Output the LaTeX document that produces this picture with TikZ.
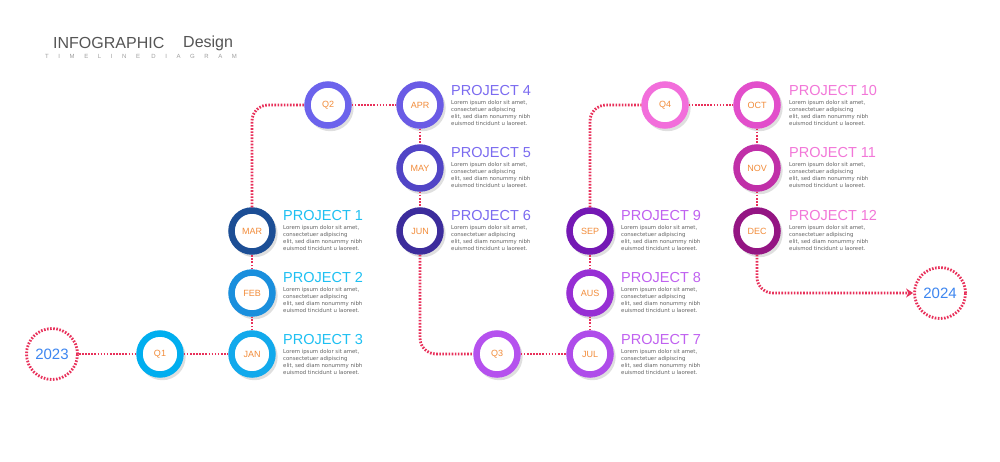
\documentclass[tikz,border=0pt]{standalone}
\usepackage{fontspec}
\setmainfont{Liberation Sans}
\newfontfamily\spaced[LetterSpace=160]{Liberation Sans}
\newfontfamily\loremfont{DejaVu Sans}
\usetikzlibrary{arrows.meta,shadows}

\definecolor{routered}{HTML}{E8305A}
\definecolor{monthorange}{HTML}{F28C3A}
\definecolor{yearblue}{HTML}{3D86F0}
\definecolor{loremgrey}{HTML}{646464}
\definecolor{titlegrey}{HTML}{555555}
% project title colours
\definecolor{cpa}{HTML}{1EC0F2}
\definecolor{cpb}{HTML}{7B6BF0}
\definecolor{cpc}{HTML}{C061F0}
\definecolor{cpd}{HTML}{F277D8}
% ring colours
\definecolor{cq1}{HTML}{00AEEF}
\definecolor{cjan}{HTML}{12A9EC}
\definecolor{cfeb}{HTML}{1A8FDD}
\definecolor{cmar}{HTML}{1C4E95}
\definecolor{cq2}{HTML}{6C63EC}
\definecolor{capr}{HTML}{6A5BE5}
\definecolor{cmay}{HTML}{5145C6}
\definecolor{cjun}{HTML}{3C2C9C}
\definecolor{cq3}{HTML}{B551EE}
\definecolor{cjul}{HTML}{AF4CEA}
\definecolor{caus}{HTML}{972FD4}
\definecolor{csep}{HTML}{7418B4}
\definecolor{cq4}{HTML}{F26EDB}
\definecolor{coct}{HTML}{E24ECB}
\definecolor{cnov}{HTML}{C02FA8}
\definecolor{cdec}{HTML}{941583}

\newcommand{\loremtxt}{Lorem ipsum dolor sit amet,\\ consectetuer adipiscing\\ elit, sed diam nonummy nibh\\ euismod tincidunt u laoreet.}

\begin{document}
\begin{tikzpicture}[
       x=1pt, y=-1pt,
       route/.style={
         draw=routered,
         line width=2.8pt,
         dash pattern=on 1.6pt off 1.5pt
       },
       month/.style={
         circle,
         fill=white,
         line width=6.5pt,
         minimum size=41pt,
         inner sep=0pt,
         text=monthorange,
         font=\fontsize{9}{10}\selectfont,
         drop shadow={shadow xshift=2pt, shadow yshift=-2.5pt, shadow scale=1.14, opacity=0.25}
       },
       year/.style={
         circle,
         draw=routered,
         line width=2.8pt,
         dash pattern=on 1.6pt off 1.5pt,
         minimum size=51pt,
         inner sep=0pt,
         text=yearblue,
         font=\fontsize{15}{16}\selectfont
       },
       ptitle/.style={
         anchor=west,
         inner sep=0pt,
         font=\fontsize{14.5}{15}\selectfont
       },
       ptext/.style={
         anchor=north west,
         align=left,
         inner sep=0pt,
         text=loremgrey,
         font=\loremfont\fontsize{5.4}{6.9}\selectfont
       }
     ]

       \fill[white] (0,0) rectangle (1000,461);
       \useasboundingbox (0,0) rectangle (1000,461);

       \node (head) at (53,43) [anchor=west, inner sep=0pt, text=titlegrey, font=\fontsize{16}{17}\selectfont]{INFOGRAPHIC};
       \node (head2) at (183,43) [anchor=west, inner sep=0pt, text=titlegrey, font=\fontsize{16}{17}\selectfont]{Design};
       \node (sub) at (45,56) [anchor=west, inner sep=0pt, text=gray!75, font=\spaced\fontsize{6}{7}\selectfont]{TIMELINE DIAGRAM};

       \node (y2023) at (52,354) [year]{2023};
       \node (y2024) at (940,293) [year]{2024};

       \node (q1) at (160,354) [month, draw=cq1]{Q1};
       \node (jan) at (252,354) [month, draw=cjan]{JAN};
       \node (feb) at (252,293) [month, draw=cfeb]{FEB};
       \node (mar) at (252,231) [month, draw=cmar]{MAR};

       \node (q2) at (328,105) [month, draw=cq2]{Q2};
       \node (apr) at (420,105) [month, draw=capr]{APR};
       \node (may) at (420,168) [month, draw=cmay]{MAY};
       \node (jun) at (420,231) [month, draw=cjun]{JUN};

       \node (q3) at (497,354) [month, draw=cq3]{Q3};
       \node (jul) at (590,354) [month, draw=cjul]{JUL};
       \node (aus) at (590,293) [month, draw=caus]{AUS};
       \node (sep) at (590,231) [month, draw=csep]{SEP};

       \node (q4) at (665,105) [month, draw=cq4]{Q4};
       \node (oct) at (757,105) [month, draw=coct]{OCT};
       \node (nov) at (757,168) [month, draw=cnov]{NOV};
       \node (dec) at (757,231) [month, draw=cdec]{DEC};

       \node (p1) at (283,216) [ptitle, text=cpa]{PROJECT 1};
       \node (t1) at (283,225) [ptext]{\loremtxt};
       \node (p2) at (283,278) [ptitle, text=cpa]{PROJECT 2};
       \node (t2) at (283,287) [ptext]{\loremtxt};
       \node (p3) at (283,340) [ptitle, text=cpa]{PROJECT 3};
       \node (t3) at (283,349) [ptext]{\loremtxt};

       \node (p4) at (451,91) [ptitle, text=cpb]{PROJECT 4};
       \node (t4) at (451,100) [ptext]{\loremtxt};
       \node (p5) at (451,153) [ptitle, text=cpb]{PROJECT 5};
       \node (t5) at (451,162) [ptext]{\loremtxt};
       \node (p6) at (451,216) [ptitle, text=cpb]{PROJECT 6};
       \node (t6) at (451,225) [ptext]{\loremtxt};

       \node (p7) at (621,340) [ptitle, text=cpc]{PROJECT 7};
       \node (t7) at (621,349) [ptext]{\loremtxt};
       \node (p8) at (621,278) [ptitle, text=cpc]{PROJECT 8};
       \node (t8) at (621,287) [ptext]{\loremtxt};
       \node (p9) at (621,216) [ptitle, text=cpc]{PROJECT 9};
       \node (t9) at (621,225) [ptext]{\loremtxt};

       \node (p10) at (789,91) [ptitle, text=cpd]{PROJECT 10};
       \node (t10) at (789,100) [ptext]{\loremtxt};
       \node (p11) at (789,153) [ptitle, text=cpd]{PROJECT 11};
       \node (t11) at (789,162) [ptext]{\loremtxt};
       \node (p12) at (789,216) [ptitle, text=cpd]{PROJECT 12};
       \node (t12) at (789,225) [ptext]{\loremtxt};

       \draw[route] (y2023) -- (q1);
       \draw[route] (q1) -- (jan);
       \draw[route] (jan) -- (feb);
       \draw[route] (feb) -- (mar);
       \draw[route, rounded corners=16pt] (mar) |- (q2);
       \draw[route] (q2) -- (apr);
       \draw[route] (apr) -- (may);
       \draw[route] (may) -- (jun);
       \draw[route, rounded corners=16pt] (jun) |- (q3);
       \draw[route] (q3) -- (jul);
       \draw[route] (jul) -- (aus);
       \draw[route] (aus) -- (sep);
       \draw[route, rounded corners=16pt] (sep) |- (q4);
       \draw[route] (q4) -- (oct);
       \draw[route] (oct) -- (nov);
       \draw[route] (nov) -- (dec);
       \draw[route, rounded corners=16pt, -{Stealth[length=7pt, width=9pt]}] (dec) |- (y2024);

\end{tikzpicture}
\end{document}
